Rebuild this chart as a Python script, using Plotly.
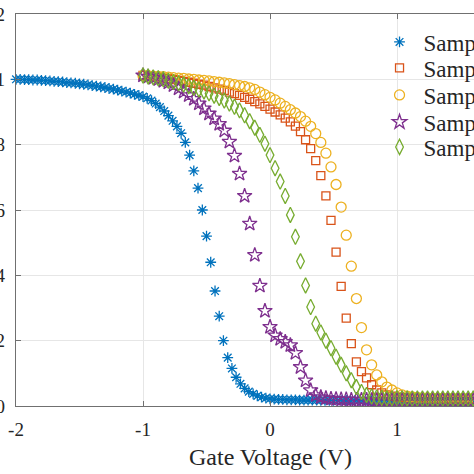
import plotly.graph_objects as go

# ---------------- data ----------------
x_s1 = [-2.000,-1.967,-1.933,-1.900,-1.867,-1.833,-1.800,-1.767,-1.733,-1.700,
        -1.667,-1.633,-1.600,-1.567,-1.533,-1.500,-1.467,-1.433,-1.400,-1.367,
        -1.333,-1.300,-1.267,-1.233,-1.200,-1.167,-1.133,-1.100,-1.067,-1.033,
        -1.000,-0.967,-0.933,-0.900,-0.867,-0.833,-0.800,-0.767,-0.733,-0.700,
        -0.667,-0.633,-0.600,-0.567,-0.533,-0.500,-0.467,-0.433,-0.400,-0.367,
        -0.333,-0.300,-0.267,-0.233,-0.200,-0.167,-0.133,-0.100,-0.067,-0.033,
        0.000,0.033,0.067,0.100,0.133,0.167,0.200,0.233,0.267,0.300,
        0.333,0.367,0.400,0.433,0.467,0.500,0.533,0.567,0.600,0.633,
        0.667,0.700,0.733,0.767,0.800,0.833,0.867,0.900,0.933,0.967,
        1.000,1.033,1.067,1.100,1.133,1.167,1.200,1.233,1.267,1.300,
        1.333,1.367,1.400,1.433,1.467,1.500,1.533,1.567,1.600]
y_s1 = [1.000,1.000,0.999,0.999,0.998,0.998,0.997,0.996,0.995,0.994,
        0.993,0.992,0.990,0.989,0.988,0.986,0.985,0.983,0.981,0.979,
        0.977,0.975,0.972,0.970,0.967,0.964,0.961,0.958,0.954,0.951,
        0.947,0.942,0.935,0.926,0.915,0.903,0.889,0.873,0.856,0.835,
        0.807,0.768,0.720,0.667,0.600,0.520,0.440,0.352,0.275,0.200,
        0.148,0.115,0.088,0.068,0.054,0.044,0.037,0.031,0.027,0.024,
        0.022,0.021,0.020,0.020,0.019,0.019,0.019,0.018,0.018,0.018,
        0.018,0.018,0.017,0.017,0.017,0.017,0.017,0.017,0.017,0.016,
        0.016,0.016,0.016,0.016,0.016,0.016,0.016,0.016,0.016,0.016,
        0.016,0.016,0.016,0.015,0.015,0.015,0.015,0.015,0.015,0.015,
        0.015,0.015,0.015,0.015,0.015,0.015,0.015,0.015,0.015]

x_s = [-1.00,-0.96,-0.92,-0.88,-0.84,-0.80,-0.76,-0.72,-0.68,-0.64,
       -0.60,-0.56,-0.52,-0.48,-0.44,-0.40,-0.36,-0.32,-0.28,-0.24,
       -0.20,-0.16,-0.12,-0.08,-0.04,0.00,0.04,0.08,0.12,0.16,
       0.20,0.24,0.28,0.32,0.36,0.40,0.44,0.48,0.52,0.56,
       0.60,0.64,0.68,0.72,0.76,0.80,0.84,0.88,0.92,0.96,
       1.00,1.04,1.08,1.12,1.16,1.20,1.24,1.28,1.32,1.36,
       1.40,1.44,1.48,1.52,1.56,1.60]
y_s2 = [1.012,1.010,1.008,1.006,1.004,1.002,0.999,0.997,0.994,0.991,
        0.988,0.985,0.982,0.978,0.974,0.970,0.966,0.961,0.956,0.951,
        0.945,0.939,0.932,0.925,0.917,0.909,0.900,0.891,0.881,0.870,
        0.857,0.840,0.815,0.788,0.751,0.705,0.643,0.568,0.471,0.366,
        0.269,0.191,0.135,0.105,0.086,0.065,0.049,0.040,0.034,0.030,
        0.027,0.026,0.025,0.025,0.024,0.024,0.024,0.023,0.023,0.023,
        0.023,0.022,0.022,0.022,0.022,0.022]
y_s3 = [1.012,1.011,1.010,1.009,1.008,1.007,1.005,1.004,1.003,1.001,
        1.000,0.998,0.997,0.995,0.993,0.991,0.989,0.987,0.984,0.981,
        0.978,0.974,0.969,0.961,0.953,0.945,0.937,0.927,0.917,0.907,
        0.897,0.886,0.872,0.856,0.834,0.807,0.774,0.732,0.678,0.609,
        0.523,0.428,0.329,0.240,0.172,0.126,0.095,0.074,0.058,0.049,
        0.040,0.034,0.030,0.028,0.026,0.025,0.025,0.024,0.024,0.024,
        0.023,0.023,0.023,0.023,0.023,0.023]
y_s4 = [1.012,1.008,1.004,1.000,0.995,0.990,0.982,0.972,0.962,0.951,
        0.940,0.926,0.911,0.895,0.880,0.863,0.843,0.809,0.766,0.711,
        0.643,0.558,0.462,0.368,0.291,0.242,0.216,0.205,0.196,0.186,
        0.162,0.119,0.078,0.048,0.033,0.027,0.024,0.022,0.021,0.020,
        0.020,0.019,0.019,0.019,0.019,0.018,0.018,0.018,0.018,0.018,
        0.018,0.018,0.018,0.018,0.018,0.018,0.018,0.018,0.018,0.018,
        0.018,0.018,0.018,0.018,0.018,0.018]
y_s5 = [1.012,1.009,1.006,1.003,1.000,0.996,0.992,0.988,0.984,0.979,
        0.974,0.969,0.963,0.957,0.950,0.943,0.935,0.926,0.916,0.905,
        0.890,0.872,0.852,0.830,0.803,0.768,0.728,0.687,0.643,0.585,
        0.518,0.443,0.369,0.303,0.252,0.225,0.200,0.177,0.151,0.126,
        0.100,0.079,0.058,0.043,0.034,0.029,0.026,0.025,0.024,0.024,
        0.024,0.024,0.023,0.023,0.023,0.023,0.023,0.023,0.023,0.023,
        0.023,0.023,0.023,0.023,0.023,0.023]

names = ["Sample 1", "Sample 2", "Sample 3", "Sample 4", "Sample 5"]
y_ticks = [0, 0.2, 0.4, 0.6, 0.8, 1.0, 1.2]
y_ticktext = ["0", "0.2", "0.4", "0.6", "0.8", "1", "1.2"]
x_ticks = [-2, -1, 0, 1]
x_ticktext = ["-2", "-1", "0", "1"]

colors = ["#0072BD", "#D95319", "#EDB120", "#7E2F8E", "#77AC30"]
symbols = ["asterisk-open", "square-open", "circle-open", "star-open", "diamond-tall-open"]
sizes = [9, 8, 10, 11, 11]

series = [(x_s1, y_s1), (x_s, y_s2), (x_s, y_s3), (x_s, y_s4), (x_s, y_s5)]

FONT = "Liberation Serif, Times New Roman, serif"
legend_ids = ["legend", "legend2", "legend3", "legend4", "legend5"]
legend_rows = [0.9286, 0.8622, 0.7934, 0.7245, 0.6607]

fig = go.Figure()
for i, (xx, yy) in enumerate(series):
    fig.add_trace(go.Scatter(
        x=xx, y=yy, mode="markers", name=names[i],
        legend=legend_ids[i],
        cliponaxis=False,
        marker=dict(symbol=symbols[i], size=sizes[i], color=colors[i],
                    line=dict(color=colors[i], width=1.3)),
    ))

legend_layout = {}
for i, lid in enumerate(legend_ids):
    legend_layout[lid] = dict(
        x=0.785, y=legend_rows[i], xanchor="left", yanchor="middle",
        bgcolor="rgba(0,0,0,0)", borderwidth=0, itemwidth=38,
        font=dict(family=FONT, size=23, color="#262626"))

fig.update_layout(
    template="none",
    width=474, height=474,
    margin=dict(l=16, r=0, t=14, b=68, autoexpand=False),
    paper_bgcolor="white", plot_bgcolor="white",
    font=dict(family=FONT, size=19, color="#262626"),
    showlegend=True,
    xaxis=dict(range=[-2, 1.606], tickvals=x_ticks, ticktext=x_ticktext,
               showgrid=True, gridcolor="#e6e6e6", gridwidth=1,
               zeroline=False, showline=True, linecolor="#707070", linewidth=1.2,
               mirror="ticks", ticks="inside", ticklen=5, tickcolor="#707070",
               automargin=False, ticklabelstandoff=6),
    yaxis=dict(range=[0, 1.2], tickvals=y_ticks, ticktext=y_ticktext,
               showgrid=True, gridcolor="#e6e6e6", gridwidth=1,
               zeroline=False, showline=True, linecolor="#707070", linewidth=1.2,
               mirror=False, ticks="inside", ticklen=5, tickcolor="#707070",
               automargin=False, ticklabelstandoff=6),
    annotations=[dict(text="Gate Voltage (V)", x=0, xref="x", y=-0.092, yref="paper",
                      xanchor="center", yanchor="top", showarrow=False,
                      font=dict(family=FONT, size=24, color="#262626"))],
    **legend_layout,
)

fig.write_html("out.html")
